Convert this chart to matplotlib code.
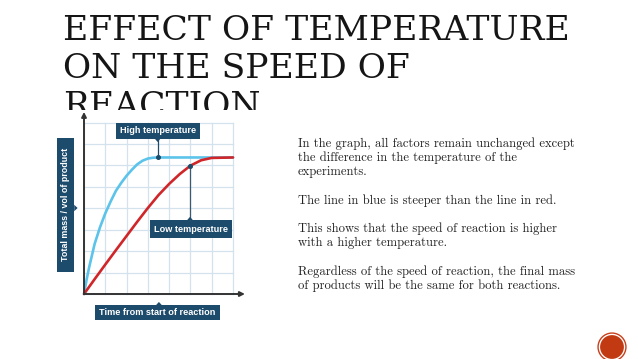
import matplotlib
matplotlib.use("Agg")
import matplotlib.pyplot as plt
from matplotlib.patches import Rectangle, Polygon, Circle

W, H = 638, 359

# ---- data (grid units) ----
high_x = [0, 0.125, 0.25, 0.5, 0.75, 1.0, 1.25, 1.5, 1.75, 2.0, 2.25, 2.5, 2.75, 3.0, 3.25, 3.5, 7.0]
high_y = [0, 0.68, 1.28, 2.33, 3.1, 3.75, 4.3, 4.8, 5.17, 5.5, 5.78, 6.03, 6.2, 6.3, 6.34, 6.35, 6.35]
low_x = [0, 0.5, 1.0, 1.5, 2.0, 2.5, 3.0, 3.5, 4.0, 4.5, 5.0, 5.5, 6.0, 7.0]
low_y = [0, 0.69, 1.37, 2.04, 2.7, 3.36, 4.0, 4.6, 5.12, 5.58, 5.97, 6.22, 6.33, 6.35]

title_lines = ["EFFECT OF TEMPERATURE", "ON THE SPEED OF", "REACTION"]
body_lines = [
    "In the graph, all factors remain unchanged except",
    "the difference in the temperature of the",
    "experiments.",
    "The line in blue is steeper than the line in red.",
    "This shows that the speed of reaction is higher",
    "with a higher temperature.",
    "Regardless of the speed of reaction, the final mass",
    "of products will be the same for both reactions.",
]
body_y = [147, 160.5, 175, 204, 232, 246, 275.5, 289.5]

label_high = "High temperature"
label_low = "Low temperature"
label_y = "Total mass / vol of product"
label_x = "Time from start of reaction"

NAVY = "#1d4b6c"
BLUE = "#5cc3ea"
RED = "#d0262a"
GRID = "#d3e2ec"

fig = plt.figure(figsize=(W / 100, H / 100), dpi=100)
fig.patch.set_facecolor("white")

def fx(px):
    return px / W

def fy(py):
    return 1 - py / H

# title
tb = [39.5, 78, 116.5]
for t, b in zip(title_lines, tb):
    fig.text(fx(63), fy(b), t, family="DejaVu Serif", fontsize=24.8, color="#151515",
             va="baseline", ha="left", zorder=0.5)

# white chart image background covering title bottom
fig.patches.append(Rectangle((fx(40), fy(330)), fx(262) - fx(40), fy(110) - fy(330),
                             transform=fig.transFigure, facecolor="white",
                             edgecolor="none", zorder=1))

# body text
for t, b in zip(body_lines, body_y):
    fig.text(fx(298), fy(b), t, family="cmr10", fontsize=9.1, color="#222222",
             va="baseline", ha="left", zorder=3)

# chart axes
ax = fig.add_axes([fx(84), fy(294), fx(233) - fx(84), fy(122) - fy(294)])
ax.set_zorder(2)
ax.patch.set_visible(False)
ax.set_xlim(0, 7)
ax.set_ylim(0, 8)
ax.axis("off")

for gx in range(0, 8):
    ax.plot([gx, gx], [0, 7.95], color=GRID, lw=0.9, zorder=1, clip_on=False)
for gy in range(0, 8):
    ax.plot([0, 7], [gy, gy], color=GRID, lw=0.9, zorder=1, clip_on=False)
ax.plot([0, 7], [7.95, 7.95], color=GRID, lw=0.9, zorder=1, clip_on=False)

ax.plot(high_x, high_y, color=BLUE, lw=1.9, zorder=3, clip_on=False,
        solid_capstyle="round", solid_joinstyle="round")
ax.plot(low_x, low_y, color=RED, lw=1.9, zorder=3.1, clip_on=False,
        solid_capstyle="round", solid_joinstyle="round")

# axes with arrows
ax.annotate("", xy=(0, 8.47), xytext=(0, 0),
            arrowprops=dict(arrowstyle="-|>", color="#333333", lw=1.4,
                            mutation_scale=7, shrinkA=0, shrinkB=0),
            annotation_clip=False, zorder=5)
ax.annotate("", xy=(7.56, 0), xytext=(0, 0),
            arrowprops=dict(arrowstyle="-|>", color="#333333", lw=1.4,
                            mutation_scale=7, shrinkA=0, shrinkB=0),
            annotation_clip=False, zorder=5)

def box(x0, x1, y0, y1):
    ax.add_patch(Rectangle((x0, y0), x1 - x0, y1 - y0, facecolor=NAVY,
                           edgecolor="none", zorder=6, clip_on=False))

lab_font = dict(family="Liberation Sans", weight="bold", color="white", zorder=7,
                ha="center", va="center", clip_on=False)

# High temperature label
box(1.49, 5.45, 7.22, 7.95)
ax.text(3.47, 7.59, label_high, fontsize=6.6, **lab_font)
ax.plot([3.46, 3.46], [7.22, 6.35], color=NAVY, lw=0.9, zorder=6, clip_on=False)
ax.plot([3.46], [6.35], "o", color=NAVY, ms=2.6, zorder=7, clip_on=False)
ax.add_patch(Polygon([[3.32, 7.23], [3.60, 7.23], [3.46, 7.07]], closed=True,
                     facecolor=NAVY, edgecolor="none", zorder=6, clip_on=False))

# Low temperature label
box(3.10, 6.93, 2.59, 3.44)
ax.text(5.02, 3.0, label_low, fontsize=6.6, **lab_font)
ax.plot([4.98, 4.98], [3.44, 5.97], color="#3b5a70", lw=0.9, zorder=6, clip_on=False)
ax.plot([4.98], [5.97], "o", color=NAVY, ms=2.6, zorder=7, clip_on=False)
ax.add_patch(Polygon([[4.84, 3.43], [5.12, 3.43], [4.98, 3.59]], closed=True,
                     facecolor=NAVY, edgecolor="none", zorder=6, clip_on=False))

# Y label
box(-1.28, -0.455, 1.04, 7.26)
ax.text(-0.865, 4.15, label_y, fontsize=6.4, rotation=90, **lab_font)
ax.add_patch(Polygon([[-0.46, 3.85], [-0.46, 4.15], [-0.3, 4.0]], closed=True,
                     facecolor=NAVY, edgecolor="none", zorder=6, clip_on=False))

# X label
box(0.52, 6.38, -1.21, -0.51)
ax.text(3.45, -0.86, label_x, fontsize=6.6, **lab_font)
ax.add_patch(Polygon([[3.38, -0.52], [3.66, -0.52], [3.52, -0.37]], closed=True,
                     facecolor=NAVY, edgecolor="none", zorder=6, clip_on=False))

# decorative circle bottom right
cax = fig.add_axes([fx(612 - 17), fy(347 + 17), 34 / W, 34 / H])
cax.set_xlim(-1, 1)
cax.set_ylim(-1, 1)
cax.axis("off")
cax.add_patch(Circle((0, 0), 0.82, facecolor="white", edgecolor="#c8401c", lw=1.0))
cax.add_patch(Circle((0, 0), 0.70, facecolor="#c23a12", edgecolor="none"))

fig.savefig("out.png", dpi=100, facecolor="white")
